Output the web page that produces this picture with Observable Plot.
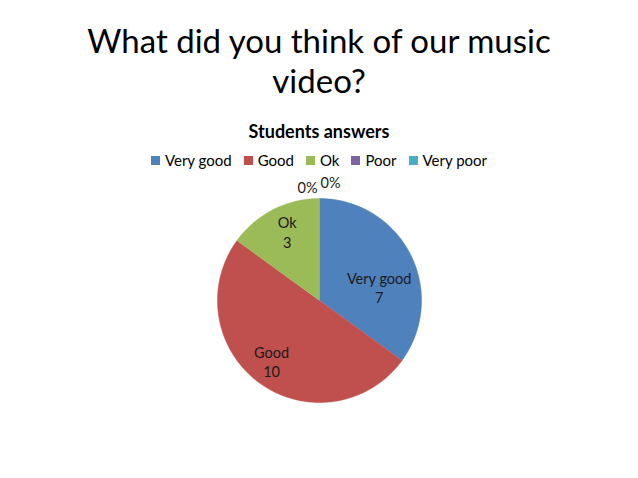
<!DOCTYPE html>
<html>
<head>
<meta charset="utf-8">
<script src="https://cdn.jsdelivr.net/npm/d3@7"></script>
<script src="https://cdn.jsdelivr.net/npm/@observablehq/plot@0.6"></script>
<style>
  html, body { margin: 0; padding: 0; background: #fff; }
  body { width: 638px; height: 478px; position: relative; overflow: hidden; font-family: Lato, "Open Sans", sans-serif; color: #000; }
  #title { position: absolute; top: 20px; left: 0; width: 638px; text-align: center; font-size: 33px; line-height: 40px; }
  #subtitle { position: absolute; top: 120px; left: 0; width: 638px; text-align: center; font-size: 18px; font-weight: bold; line-height: 22px; }
  #legend { position: absolute; top: 151px; left: 0; width: 638px; display: flex; justify-content: center; font-size: 15px; line-height: 18px; }
  .item { display: flex; align-items: center; margin: 0 6px; }
  .sw { width: 9px; height: 9px; margin-right: 5px; }
  #chart { position: absolute; top: 170px; left: 0; }
</style>
</head>
<body>
<div id="title">What did you think of our music<br>video?</div>
<div id="subtitle">Students answers</div>
<div id="legend"></div>
<div id="chart"></div>
<script>
const categories = ["Very good", "Good", "Ok", "Poor", "Very poor"];
const answers = [7, 10, 3, 0, 0];
const colors = ["#4F81BD", "#C0504D", "#9BBB59", "#8064A2", "#4BACC6"];

// Legend
const legend = document.getElementById("legend");
categories.forEach((c, i) => {
  const it = document.createElement("div");
  it.className = "item";
  const sw = document.createElement("span");
  sw.className = "sw";
  sw.style.background = colors[i];
  it.appendChild(sw);
  it.appendChild(document.createTextNode(c));
  legend.appendChild(it);
});

// Pie geometry from d3.pie (unit radius)
const arcs = d3.pie().sort(null).startAngle(0).endAngle(2 * Math.PI)(answers);
const slices = [];
arcs.forEach((a, i) => {
  if (a.value === 0) return;
  slices.push({cat: categories[i], x: 0, y: 0});
  const n = Math.max(2, Math.ceil((a.endAngle - a.startAngle) / (Math.PI / 180)));
  for (let k = 0; k <= n; k++) {
    const t = a.startAngle + (a.endAngle - a.startAngle) * k / n;
    slices.push({cat: categories[i], x: Math.sin(t), y: Math.cos(t)});
  }
});

const labels = arcs.map((a, i) => {
  const mid = (a.startAngle + a.endAngle) / 2;
  const r = a.value === 0 ? 1.12 : 0.7;
  return {
    cat: categories[i],
    x: r * Math.sin(mid),
    y: r * Math.cos(mid),
    text: a.value === 0 ? "0%" : `${categories[i]}\n${a.value}`
  };
});

const R = 102;          // pixel radius
const W = 638, H = 260; // svg size
const above = 130;      // pixels from svg top to pie center

const txt = (cat, dx, dy) => Plot.text(labels.filter(d => d.cat === cat), {
  x: "x", y: "y", text: "text", fontSize: 14.5, fill: "#1a1a1a", lineHeight: 1.35, dx, dy
});

const plot = Plot.plot({
  width: W,
  height: H,
  margin: 0,
  x: {domain: [-(W / 2) / R, (W / 2) / R], axis: null},
  y: {domain: [-(H - above) / R, above / R], axis: null},
  color: {domain: categories, range: colors},
  style: {background: "transparent", fontFamily: "Lato, 'Open Sans', sans-serif"},
  marks: [
    Plot.line(slices, {x: "x", y: "y", z: "cat", fill: "cat", stroke: "cat", strokeWidth: 0.5, curve: "linear"}),
    txt("Very good", -4, 19),
    txt("Good", -6, 3),
    txt("Ok", 0, -5),
    txt("Poor", -12, 0),
    txt("Very poor", 11, -5)
  ]
});
document.getElementById("chart").appendChild(plot);
</script>
</body>
</html>
